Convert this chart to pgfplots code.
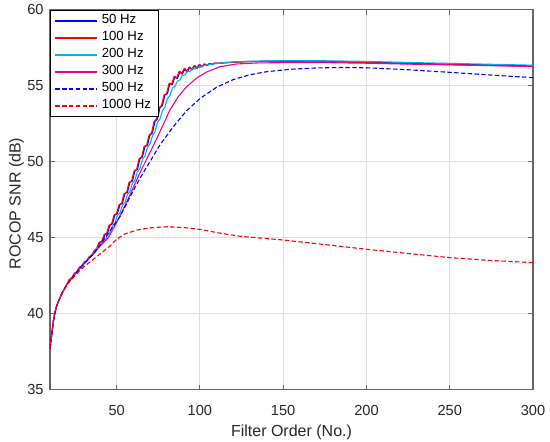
\documentclass[border=0pt]{standalone}
\usepackage{pgfplots}
\pgfplotsset{compat=1.18}
\usepackage{pgfplotstable}
\usepackage{fontspec}
\setmainfont{Liberation Sans}

% filter order vs. SNR, one table per frequency
\pgfplotstableread{
x y
10 37.7
11 38.6
12 39.5
13 40.1
14 40.5
15 40.8
17 41.3
20 41.9
22 42.25
23.5 42.35
25 42.65
26.5 42.75
28 43.05
29.5 43.15
31 43.4
32.5 43.5
34 43.75
35.5 43.85
37 44.15
38.5 44.3
40 44.7
41.5 44.75
43 45.2
44.5 45.3
46 45.82
47.5 45.92
49 46.5
50.5 46.59
52 47.17
53.5 47.27
55 47.9
56.5 47.98
58 48.65
59.5 48.73
61 49.4
62.5 49.49
64 50.2
65.5 50.31
67 51.0
68.5 51.08
70 51.75
71.5 51.9
73 52.65
74.5 52.8
76 53.55
77.5 53.7
79 54.4
80.5 54.48
82 55.15
83.5 55.08
85 55.6
86.5 55.49
88 55.93
89.5 55.79
91 56.11
92.5 55.93
94 56.21
95.5 56.07
97 56.31
98.5 56.16
100 56.38
101.5 56.25
103 56.42
104.5 56.33
106 56.46
107.5 56.4
109 56.49
111 56.48
115 56.52
120 56.55
130 56.6
150 56.62
175 56.6
200 56.55
225 56.48
250 56.42
275 56.36
300 56.3
}\fiftyhz

\pgfplotstableread{
x y
10 37.7
11 38.6
12 39.5
13 40.1
14 40.5
15 40.8
17 41.3
20 41.9
21.5 42.25
23 42.35
24.5 42.65
26 42.75
27.5 43.05
29 43.15
30.5 43.4
32 43.5
33.5 43.75
35 43.85
36.5 44.15
38 44.3
39.5 44.7
41 44.75
42.5 45.2
44 45.3
45.5 45.82
47 45.92
48.5 46.5
50 46.59
51.5 47.17
53 47.27
54.5 47.9
56 47.98
57.5 48.65
59 48.73
60.5 49.4
62 49.49
63.5 50.2
65 50.31
66.5 51.0
68 51.08
69.5 51.75
71 51.9
72.5 52.65
74 52.8
75.5 53.55
77 53.7
78.5 54.4
80 54.48
81.5 55.15
83 55.08
84.5 55.6
86 55.49
87.5 55.93
89 55.79
90.5 56.11
92 55.93
93.5 56.21
95 56.07
96.5 56.31
98 56.16
99.5 56.38
101 56.25
102.5 56.42
104 56.33
105.5 56.46
107 56.4
108.5 56.49
111 56.47
115 56.5
120 56.54
130 56.58
150 56.6
175 56.58
200 56.52
225 56.45
250 56.39
275 56.33
300 56.27
}\hundredhz

\pgfplotstableread{
x y
10 37.7
11 38.6
12 39.5
13 40.1
14 40.5
15 40.8
17 41.3
20 41.9
22 42.2
25 42.6
28 43.0
31 43.35
34 43.7
37 44.1
40 44.55
41.5 44.65
43 44.8
44.5 45.15
46 45.35
47.5 45.78
49 45.96
50.5 46.46
52 46.63
53.5 47.13
55 47.31
56.5 47.83
58 48.05
59.5 48.58
61 48.8
62.5 49.33
64 49.56
65.5 50.13
67 50.38
68.5 50.93
70 51.15
71.5 51.68
73 51.97
74.5 52.58
76 52.8
77.5 53.35
79 53.6
80.5 54.15
82 54.35
83.5 54.85
85 54.95
86.5 55.3
88 55.38
89.5 55.68
91 55.7
92.5 55.95
94 55.92
95.5 56.12
97 56.1
98.5 56.24
100 56.21
102 56.32
105 56.38
110 56.46
115 56.52
120 56.56
130 56.61
150 56.65
175 56.64
200 56.6
225 56.53
250 56.47
275 56.41
300 56.35
}\twohundredhz

\pgfplotstableread{
x y
10 37.7
11 38.6
12 39.5
13 40.1
14 40.5
15 40.8
17 41.3
20 41.9
22 42.2
25 42.6
28 43.0
31 43.35
34 43.7
37 44.05
40 44.45
45 45.0
50 46.0
55 47.1
60 48.3
65 49.5
70 50.6
74 51.5
78 52.45
82 53.4
87 54.28
92 54.93
98 55.5
104 55.9
112 56.25
122 56.43
135 56.5
154 56.52
175 56.52
200 56.48
225 56.42
250 56.37
275 56.32
300 56.27
}\threehundredhz

\pgfplotstableread{
x y
10 37.7
11 38.6
12 39.5
13 40.1
14 40.5
15 40.8
17 41.3
20 41.9
22 42.2
25 42.6
28 43.0
31 43.35
34 43.7
37 44.05
40 44.5
45 45.3
52 46.38
60 48.1
64 48.9
70 50.0
76 51.1
84 52.3
92 53.35
100 54.15
110 54.9
120 55.4
130 55.72
140 55.92
154 56.08
170 56.17
185 56.2
200 56.18
225 56.05
250 55.88
275 55.7
300 55.53
}\fivehundredhz

\pgfplotstableread{
x y
10 37.7
11 38.6
12 39.5
13 40.1
14 40.5
15 40.8
17 41.3
20 41.85
22 42.15
25 42.5
28 42.85
31 43.15
34 43.4
38 43.75
42 44.1
46 44.45
50 44.9
55 45.25
62 45.5
70 45.65
80 45.72
90 45.67
100 45.55
112 45.3
124 45.1
137 44.97
150 44.85
175 44.55
200 44.24
225 43.96
250 43.69
275 43.5
300 43.36
}\thousandhz

\begin{document}
\begin{tikzpicture}
\path[use as bounding box] (-25pt,-25.65pt) rectangle (250pt,194.85pt);
\begin{axis}[
  scale only axis,
  width=241.5pt, height=190pt,
  xmin=10, xmax=300, ymin=35, ymax=60,
  xtick={50,100,...,300}, ytick={35,40,...,60},
  tick pos=both, tick align=inside,
  major tick length=2.5pt,
  grid=major,
  major grid style={black!13, line width=0.4pt},
  axis line style={black!60, line width=0.6pt},
  tick style={black!60, line width=0.5pt},
  /pgf/number format/assume math mode=true,
  ticklabel style={font=\fontsize{7.3}{8}\selectfont, text=black!85},
  xticklabel style={anchor=base, yshift=-12.65pt},
  yticklabel style={anchor=east, inner xsep=0pt, xshift=-3pt},
  label style={font=\fontsize{8}{9}\selectfont, text=black!85},
  xlabel={Filter Order (No.)},
  ylabel={ROCOP SNR (dB)},
  xlabel style={at={(axis description cs:0.5,0)}, anchor=base, yshift=-23.3pt},
  ylabel style={at={(axis description cs:0,0.49)}, anchor=base, yshift=14.7pt},
  legend cell align=left,
  legend image code/.code={\draw[line width=0.9pt] (0pt,0pt) -- (21pt,0pt);},
  legend style={
    at={(0,1)}, anchor=north west,
    font=\fontsize{6.6}{7}\selectfont,
    inner xsep=2pt, inner ysep=1pt,
    row sep=0pt,
    nodes={inner xsep=1.8pt, inner ysep=0pt, minimum height=8.5pt},
  },
]
\addplot[blue, line width=0.55pt] table[x=x, y=y] {\fiftyhz};
\addlegendentry{50 Hz}
\addplot[red, line width=0.55pt] table[x=x, y=y] {\hundredhz};
\addlegendentry{100 Hz}
\addplot[cyan, line width=0.55pt] table[x=x, y=y] {\twohundredhz};
\addlegendentry{200 Hz}
\addplot[magenta, line width=0.55pt] table[x=x, y=y] {\threehundredhz};
\addlegendentry{300 Hz}
\addplot[blue, line width=0.55pt, dash pattern=on 2.2pt off 1.2pt] table[x=x, y=y] {\fivehundredhz};
\addlegendentry{500 Hz}
\addplot[red, line width=0.55pt, dash pattern=on 2.2pt off 1.2pt] table[x=x, y=y] {\thousandhz};
\addlegendentry{1000 Hz}
\end{axis}
\end{tikzpicture}
\end{document}
